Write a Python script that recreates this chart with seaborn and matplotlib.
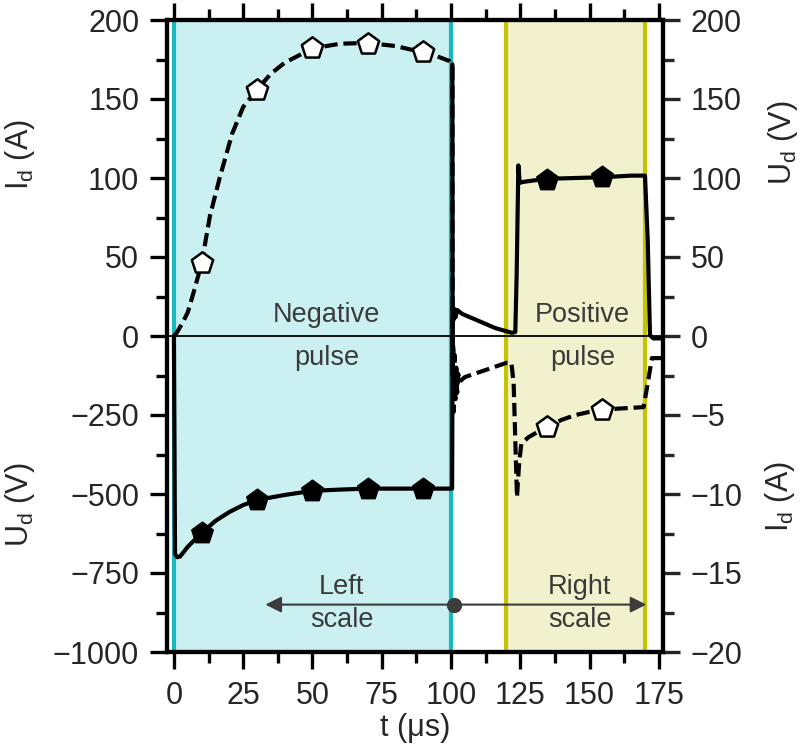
import matplotlib
matplotlib.use("Agg")
import matplotlib.pyplot as plt
import seaborn as sns

# ---------------- data ----------------
# Discharge voltage U_d during the negative pulse (V, left lower scale)
t_ud_neg = [0, 0.4, 1.2, 2.2, 5, 10, 15, 20, 25, 30, 40, 50, 60, 70, 80, 90, 100, 100.4]
ud_neg = [0, -690, -700, -698, -667, -623, -585, -557, -535, -519, -503, -490, -486, -483, -483, -483, -483, -483]
# U_d after the negative pulse and during the positive pulse (V, right upper scale)
t_ud_pos = [100.6, 100.9, 101.3, 101.7, 102.2, 104, 108, 112, 116, 120, 122, 123.2, 123.7, 124.3,
            124.8, 126, 130, 135, 145, 155, 165, 170, 171, 171.8, 173, 176.5]
ud_pos = [18, 10, 17, 12, 16.5, 14, 11, 8, 5, 3, 2, 2.5, 40, 108,
          97, 97.5, 98.5, 99.5, 100, 100.5, 101.5, 101.5, 60, 0.5, -1.5, -1.5]

# Discharge current I_d during the negative pulse (A, left upper scale)
t_id_neg = [0, 1, 3, 5, 7.5, 10, 13, 16.5, 21, 25, 30, 35, 40, 50, 60, 70, 80, 90, 95, 99.5, 100.5]
id_neg = [0, 2, 8, 15, 30, 46, 76, 100, 128, 145, 156, 166, 173, 182, 185, 185.5, 183.5, 179.5, 177, 174, 172]
# I_d after the negative pulse and during the positive pulse (A, right lower scale)
t_id_pos = [100.6, 100.8, 101.0, 101.3, 101.6, 101.9, 102.2, 102.6, 103, 105, 110, 115, 120, 121.8, 122.6,
            123.8, 124.6, 125.4, 128, 131, 134.5, 140, 145, 150, 154.4, 160, 165, 169.5, 170.5, 172.5, 176.5]
id_pos = [-2.5, -0.5, -4.8, -1.2, -4.0, -2.0, -3.6, -2.4, -2.9, -2.6, -2.3, -2.0, -1.7, -1.7, -3.0,
          -10.2, -8.0, -6.8, -6.4, -6.1, -5.8, -5.3, -5.0, -4.8, -4.7, -4.6, -4.55, -4.5, -3.5, -1.4, -1.4]

# marker positions
t_mark_neg = [10, 30, 50, 70, 90]
id_mark_neg = [46, 156, 182, 185, 179.5]
ud_mark_neg = [-623, -519, -490, -483, -483]
t_mark_pos = [134.5, 154.5]
id_mark_pos = [-5.76, -4.7]
ud_mark_pos = [99, 100.5]

# pulses
neg_pulse = (0, 100)
pos_pulse = (120, 170)

# tick labels
x_ticks = [0, 25, 50, 75, 100, 125, 150, 175]
left_tick_labels = ["\u22121000", "\u2212750", "\u2212500", "\u2212250", "0", "50", "100", "150", "200"]
right_tick_labels = ["\u221220", "\u221215", "\u221210", "\u22125", "0", "50", "100", "150", "200"]

# display scale factors (lower half)
LEFT_V = 1 / 5     # -1000 V -> -200
RIGHT_A = 10       # -20 A -> -200

ud_t = t_ud_neg + t_ud_pos
ud_y = [v * LEFT_V for v in ud_neg] + ud_pos
id_t = t_id_neg + t_id_pos
id_y = id_neg + [a * RIGHT_A for a in id_pos]
# fast current drop at the end of the negative pulse (looks solid in the reference)
drop_t = [t_id_neg[-1], t_id_pos[0]]
drop_y = [id_neg[-1], id_pos[0] * RIGHT_A]

ud_mt = t_mark_neg + t_mark_pos
ud_my = [v * LEFT_V for v in ud_mark_neg] + ud_mark_pos
id_mt = t_mark_neg + t_mark_pos
id_my = id_mark_neg + [a * RIGHT_A for a in id_mark_pos]

# ---------------- style ----------------
sns.set_theme(style="ticks")
plt.rcParams['font.family'] = ['Liberation Sans', 'DejaVu Sans']
plt.rcParams['mathtext.fontset'] = 'custom'
plt.rcParams['mathtext.rm'] = 'Liberation Sans'
plt.rcParams['axes.unicode_minus'] = True

W, H = 805, 746
fig = plt.figure(figsize=(W / 100, H / 100), dpi=100)
L, R, T, B = 167, 663, 20, 652
ax = fig.add_axes([L / W, 1 - B / H, (R - L) / W, (B - T) / H])

ax.set_xlim(-2.5, 176.5)
ax.set_ylim(-200, 200)

# pulse regions
cyan_fill, cyan_edge = "#cbf0f1", "#17b9bf"
yel_fill, yel_edge = "#f1f1cd", "#c6c400"
ax.axvspan(*neg_pulse, color=cyan_fill, lw=0, zorder=0)
ax.axvspan(*pos_pulse, color=yel_fill, lw=0, zorder=0)
for xv in neg_pulse:
    ax.axvline(xv, color=cyan_edge, lw=3, zorder=1)
for xv in pos_pulse:
    ax.axvline(xv, color=yel_edge, lw=3, zorder=1)
ax.axhline(0, color="black", lw=1.3, zorder=2)

# curves
lw_curve = 3.0
sns.lineplot(x=ud_t, y=ud_y, sort=False, estimator=None, color="black", linewidth=lw_curve,
             ax=ax, zorder=4)
sns.lineplot(x=id_t, y=id_y, sort=False, estimator=None, color="black", linewidth=lw_curve,
             linestyle=(0, (3.2, 1.4)), ax=ax, zorder=4)
sns.lineplot(x=drop_t, y=drop_y, sort=False, estimator=None, color="black", linewidth=lw_curve,
             ax=ax, zorder=4)
for ln in ax.get_lines():
    ln.set_solid_capstyle("round")
    ln.set_dash_capstyle("butt")

# markers
sns.scatterplot(x=ud_mt, y=ud_my, marker="p", s=260, color="black", edgecolor="black",
                linewidth=1.2, ax=ax, zorder=5)
sns.scatterplot(x=id_mt, y=id_my, marker="p", s=260, color="white", edgecolor="black",
                linewidth=1.8, ax=ax, zorder=5)

# annotations
tcol = "#3a3a3a"
tfs = 19.5
ax.text(55, 13, "Negative", ha="center", va="center", fontsize=tfs, color=tcol, zorder=6)
ax.text(55, -14, "pulse", ha="center", va="center", fontsize=tfs, color=tcol, zorder=6)
ax.text(147.5, 13, "Positive", ha="center", va="center", fontsize=tfs, color=tcol, zorder=6)
ax.text(147.5, -14, "pulse", ha="center", va="center", fontsize=tfs, color=tcol, zorder=6)
ax.text(60.5, -159, "Left", ha="center", va="center", fontsize=tfs, color=tcol, zorder=6)
ax.text(60.5, -180, "scale", ha="center", va="center", fontsize=tfs, color=tcol, zorder=6)
ax.text(146.5, -159, "Right", ha="center", va="center", fontsize=tfs, color=tcol, zorder=6)
ax.text(146.5, -180, "scale", ha="center", va="center", fontsize=tfs, color=tcol, zorder=6)

acol = "#3c3c3c"
for xend in (33, 170.5):
    ax.annotate("", xy=(xend, -170), xytext=(101, -170),
                arrowprops=dict(arrowstyle="-|>", color=acol, lw=1.5, mutation_scale=24,
                                shrinkA=0, shrinkB=0), zorder=6)
ax.plot([101], [-170], "o", color=acol, ms=10, zorder=7)

# axes / ticks
tfs_tick = 22
ax.set_xticks(x_ticks)
ax.set_xticks([x + 12.5 for x in x_ticks[:-1]], minor=True)
ax.set_yticks(list(range(-200, 201, 50)))
ax.set_yticks(list(range(-175, 200, 50)), minor=True)
ax.set_yticklabels(left_tick_labels)
ax.tick_params(axis="both", which="major", length=12, width=2.4, labelsize=tfs_tick, direction="out", color="black")
ax.tick_params(axis="both", which="minor", length=8, width=2.4, direction="out", color="black")
ax.tick_params(axis="x", which="both", top=True, labeltop=False, pad=9)
ax.tick_params(axis="y", which="both", right=False, pad=8)
for s in ax.spines.values():
    s.set_visible(True)
    s.set_linewidth(3)
    s.set_color("black")
ax.set_xlabel("t (\u03bcs)", fontsize=tfs_tick, labelpad=1)

ax2 = ax.twinx()
ax2.set_ylim(ax.get_ylim())
ax2.set_yticks(list(range(-200, 201, 50)))
ax2.set_yticks(list(range(-175, 200, 50)), minor=True)
ax2.set_yticklabels(right_tick_labels)
ax2.tick_params(axis="y", which="major", length=12, width=2.4, labelsize=tfs_tick, pad=8, direction="out")
ax2.tick_params(axis="y", which="minor", length=8, width=2.4, direction="out")
for s in ax2.spines.values():
    s.set_linewidth(3)
    s.set_color("black")
ax2.grid(False)
ax.grid(False)

# axis titles
lfs = 22
fig.text(20 / W, 1 - 155 / H, "I$_\\mathregular{d}$ (A)", rotation=90, ha="center", va="center", fontsize=lfs)
fig.text(20 / W, 1 - 505 / H, "U$_\\mathregular{d}$ (V)", rotation=90, ha="center", va="center", fontsize=lfs)
fig.text(783 / W, 1 - 143 / H, "U$_\\mathregular{d}$ (V)", rotation=90, ha="center", va="center", fontsize=lfs)
fig.text(780 / W, 1 - 497 / H, "I$_\\mathregular{d}$ (A)", rotation=90, ha="center", va="center", fontsize=lfs)

fig.savefig("out.png", dpi=100)
